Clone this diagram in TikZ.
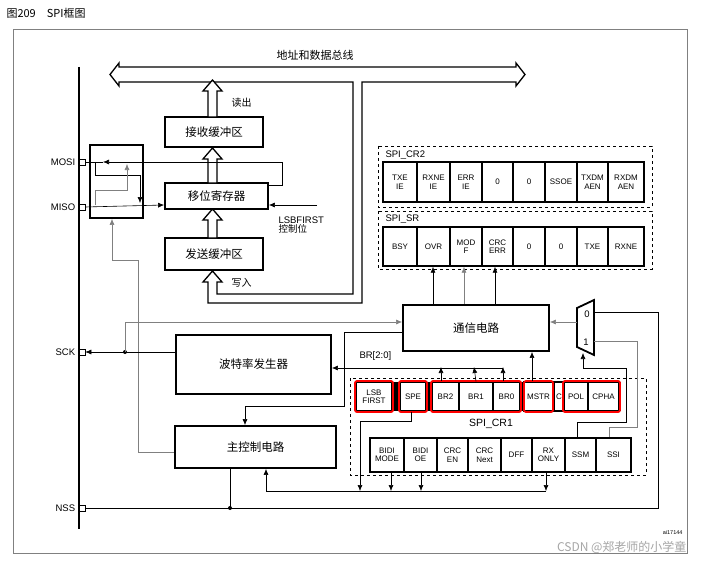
\documentclass[tikz,border=0pt]{standalone}
\usepackage{fontspec}
\setmainfont{Liberation Sans}
\newfontfamily\cjk{Noto Sans CJK SC}
\usetikzlibrary{arrows.meta}
\begin{document}
\begin{tikzpicture}[x=1pt,y=-1pt,
  tbox/.style={draw,line width=1.8pt,inner sep=0pt,font=\cjk\fontsize{11.5}{13}\selectfont},
  cell/.style={draw,line width=1.4pt,fill=white,inner sep=0pt,align=center,font=\fontsize{8}{8.5}\selectfont},
  thin/.style={line width=0.6pt},
  gthin/.style={line width=0.6pt,draw=gray},
  arr/.style={-{Latex[length=6pt,width=5pt]}},
  hol/.style={line width=1.3pt,fill=white,line join=miter},
  redb/.style={draw=red,line width=1.8pt,rounded corners=2pt},
  dbox/.style={draw,dashed,line width=0.6pt},
  pin/.style={draw,fill=white,line width=0.6pt,minimum size=6pt,inner sep=0pt},
  lbl/.style={font=\fontsize{9.5}{10.5}\selectfont},
  clbl/.style={font=\cjk\fontsize{10}{11}\selectfont}]
\useasboundingbox (0,0) rectangle (703,564);
\fill[white] (0,0) rectangle (703,564);
% title and frame
\node[anchor=west,font=\cjk\fontsize{11}{12}\selectfont] (title) at (3,13) {图209\quad SPI框图};
\draw[gray,line width=0.6pt] (13,29) rectangle (687,553);
\node[font=\fontsize{5.5}{6}\selectfont,anchor=east] (ai) at (686,533) {ai17144};
\node[font=\cjk\fontsize{12}{13}\selectfont,text=gray!70,anchor=east] (wm) at (690,547) {CSDN @郑老师的小学童};
% main vertical line and pins
\draw[line width=1.2pt] (79,67) -- (79,529);
\node[pin] (mosi) at (82,162) {};
\node[pin] (miso) at (82,207) {};
\node[pin] (sck) at (82,352) {};
\node[pin] (nss) at (82,508) {};
\node[lbl,anchor=east] at (mosi.west) {MOSI};
\node[lbl,anchor=east] at (miso.west) {MISO};
\node[lbl,anchor=east] at (sck.west) {SCK};
\node[lbl,anchor=east] at (nss.west) {NSS};
% bus
\node[font=\cjk\fontsize{11}{12}\selectfont] (buslbl) at (315,55) {地址和数据总线};
\draw[hol] (110,74.5) -- (119,63) -- (119,67) -- (516,67) -- (516,63) -- (525,74.5) -- (516,86) -- (516,82)
  -- (362,82) -- (362,303) -- (208,303) -- (208,282) -- (203,282) -- (212.5,271) -- (222,282) -- (217,282)
  -- (217,294) -- (353,294) -- (353,82) -- (119,82) -- (119,86) -- cycle;
% data path boxes
\node[tbox,minimum width=98pt,minimum height=30pt] (rx) at (214,132) {接收缓冲区};
\node[tbox,minimum width=103pt,minimum height=26pt] (sh) at (216.5,196) {移位寄存器};
\node[tbox,minimum width=98pt,minimum height=32pt] (tx) at (214,254) {发送缓冲区};
\draw[hol] (208,117) -- (208,91) -- (203,91) -- (212.5,80) -- (222,91) -- (217,91) -- (217,117) -- cycle;
\draw[hol] (208,183) -- (208,159) -- (203,159) -- (212.5,148) -- (222,159) -- (217,159) -- (217,183) -- cycle;
\draw[hol] (208,238) -- (208,220) -- (203,220) -- (212.5,209) -- (222,220) -- (217,220) -- (217,238) -- cycle;
\node[clbl,anchor=west] (rd) at (228,103) {读出};
\node[clbl,anchor=west] (wr) at (228,283) {写入};
\node[lbl,anchor=west,align=left] (lsbt) at (275,225) {LSBFIRST\\[-1pt]{\cjk 控制位}};
% MOSI/MISO switch box
\node[draw,line width=1.8pt,minimum width=53pt,minimum height=73pt] (sw) at (116.5,181.5) {};
\draw[thin,arr] (sh.east |- 0,185) -- (282,185) -- (282,162) -- (103,162);
\draw[thin] (103,162) -- (mosi.east);
\draw[thin,arr] (miso.east) -- (sh.west |- 0,205);
\draw[thin,arr] (317,205) -- (sh.east |- 0,205);
\draw[thin,arr] (95,162) -- (95,175) -- (140,175) -- (140,203);
\draw[gthin,arr] (95,205) -- (95,190) -- (127,190) -- (127,164);
% control boxes
\node[tbox,minimum width=146pt,minimum height=46pt] (comm) at (476,328) {通信电路};
\node[tbox,minimum width=155pt,minimum height=59pt] (baud) at (253.5,364.5) {波特率发生器};
\node[tbox,minimum width=161pt,minimum height=42pt] (ctrl) at (255.5,447) {主控制电路};
\draw[gthin,arr] (ctrl.west |- 0,452) -- (138,452) -- (138,260) -- (112,260) -- (sw.south -| 112,0);
% SCK
\draw[thin,arr] (baud.west |- 0,352) -- (sck.east);
\fill (125,352) coordinate (d1) circle (2pt);
\draw[gthin,arr] (d1) -- (125,322) -- (comm.west |- 0,322);
\draw[thin,arr] (comm.west |- 0,332) -- (344,332) -- (344,406) -- (245,406) -- (ctrl.north -| 245,0);
% CR2
\draw[dbox] (378,146) rectangle (652,207);
\node[lbl,anchor=west] (cr2l) at (382,155) {SPI\_CR2};
\foreach \a/\b/\t [count=\i] in {383/417/{TXE\\IE},417/450/{RXNE\\IE},450/482/{ERR\\IE},482/513/0,513/545/0,545/577/SSOE,577/608/{TXDM\\AEN},608/644/{RXDM\\AEN}}
  \node[cell,minimum width={\b-\a},minimum height=40pt] (c2\i) at ({(\a+\b)/2},182) {\t};
% SR
\draw[dbox] (378,211) rectangle (652,269);
\node[lbl,anchor=west] (srl) at (382,219) {SPI\_SR};
\foreach \a/\b/\t [count=\i] in {383/417/BSY,417/450/OVR,450/482/{MOD\\F},482/513/{CRC\\ERR},513/545/0,545/577/0,577/608/TXE,608/644/RXNE}
  \node[cell,minimum width={\b-\a},minimum height=39pt] (sr\i) at ({(\a+\b)/2},246.5) {\t};
\draw[thin,arr] (comm.north -| 433,0) -- (sr2.south -| 433,0);
\draw[gthin,arr] (comm.north -| 464,0) -- (sr3.south -| 464,0);
\draw[thin,arr] (comm.north -| 495,0) -- (sr4.south -| 495,0);
% CR1
\draw[dbox] (350,378) rectangle (646,475);
\node[lbl,font=\fontsize{10.5}{11}\selectfont] (cr1l) at (491,424) {SPI\_CR1};
\fill (356,382) rectangle (621,411);
\foreach \a/\b/\t/\n in {356/392/{LSB\\FIRST}/lsb,400/426/SPE/spe,432/459/BR2/br2,459/493/BR1/br1,493/520/BR0/br0,524/553/MSTR/mstr,554/564/C/cx,564/588/POL/cpol,588/619/CPHA/cpha}
  \node[cell,minimum width={\b-\a},minimum height=29pt] (\n) at ({(\a+\b)/2},396.5) {\t};
\foreach \a/\b/\t [count=\i] in {370/404/{BIDI\\MODE},404/437/{BIDI\\OE},437/468/{CRC\\EN},468/501/{CRC\\Next},501/532/DFF,532/565/{RX\\ONLY},565/596/SSM,596/631/SSI}
  \node[cell,minimum width={\b-\a},minimum height=34pt] (c1\i) at ({(\a+\b)/2},455) {\t};
\draw[redb] (355,381) rectangle (393,412);
\draw[redb] (399,381) rectangle (427,412);
\draw[redb] (431,381) rectangle (521,412);
\draw[redb] (524,381) rectangle (553,412);
\draw[redb] (563,381) rectangle (620,412);
% BR
\node[lbl,anchor=west] (brl) at (356,356) {BR[2:0]};
\draw[thin,arr] (503,368) -- (baud.east |- 0,368);
\draw[thin,arr] (br2.north -| 441,0) -- (441,367);
\draw[thin,arr] (br1.north) -- (474,367);
\draw[thin,arr] (br0.north -| 503,0) -- (503,367);
\draw[thin,arr] (mstr.north -| 532,0) -- (comm.south -| 532,0);
% mux
\draw[line width=1.8pt,line join=miter] (577,308) -- (594,300) -- (594,355) -- (577,347) -- cycle;
\coordinate (mux) at (577,322);
\node[lbl] (m0) at (587,314) {0};
\node[lbl] (m1) at (586,342) {1};
\draw[gthin,arr] (mux) -- (comm.east |- 0,322);
\draw[thin] (594,312) -- (658,312) -- (658,508) -- (nss.east);
\draw[gthin] (594,341) -- (637,341) -- (637,427) -- (609,427) -- (c18.north -| 609,0);
\draw[thin,arr] (c17.north -| 577,0) -- (577,422) -- (626,422) -- (626,368) -- (583,368) -- (583,353);
% main control to NSS
\fill (230,508) coordinate (d2) circle (2pt);
\draw[thin] (ctrl.south -| 230,0) -- (d2);
% bottom bus
\draw[thin,arr] (546,491) -- (266,491) -- (ctrl.south -| 266,0);
\draw[thin,arr] (spe.south -| 411,0) -- (411,421) -- (360,421) -- (360,491);
\draw[thin,arr] (c11.south -| 391,0) -- (391,491);
\draw[thin,arr] (c12.south -| 421,0) -- (421,491);
\draw[thin,arr] (c16.south -| 546,0) -- (546,491);
\end{tikzpicture}
\end{document}
